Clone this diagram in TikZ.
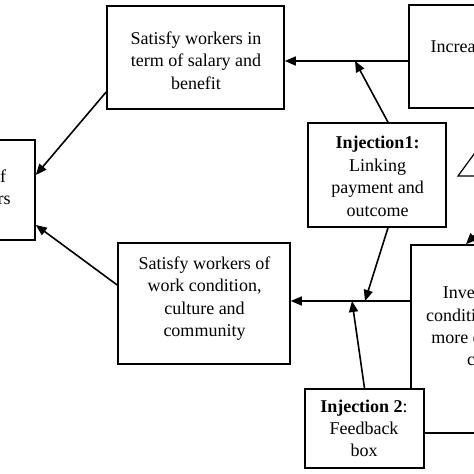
\documentclass[tikz,border=0pt]{standalone}
\usepackage{fontspec}
\setmainfont{Liberation Serif}
\usetikzlibrary{arrows.meta}

\begin{document}
\begin{tikzpicture}[x=1pt,y=-1pt,
  box/.style={draw,line width=1.6pt,inner sep=0pt,fill=white},
  txt/.style={align=center,inner sep=0pt,font=\fontsize{18}{22.4}\selectfont},
  arr/.style={-{Triangle[length=11pt,width=9pt]},line width=1.6pt}]

\useasboundingbox (0,0) rectangle (474,474);
\clip (0,0) rectangle (474,474);

% ---------- boxes ----------
\node[box,minimum width=150pt,minimum height=100pt] (loyal) at (-40,190) {};
\node[box,minimum width=177pt,minimum height=103pt] (salary) at (195.5,57.5) {};
\node[box,minimum width=226pt,minimum height=103pt] (incr) at (522,56.5) {};
\node[box,minimum width=138pt,minimum height=104pt] (inj1) at (377,175) {};
\node[box,minimum width=172pt,minimum height=121pt] (work) at (204,303.5) {};
\node[box,minimum width=162pt,minimum height=188pt] (inve) at (492,339) {};
\node[box,minimum width=119pt,minimum height=79pt] (inj2) at (364.5,428.5) {};

% ---------- texts ----------
\node[txt] (loyaltxt) at (-31.5,187.4) {Loyalty of\\the workers};
\node[txt] (salarytxt) at (196,60.4) {Satisfy workers in\\term of salary and\\benefit};
\node[txt] (incrtxt) at (522,59) {Increase productivity and\\profit};
\node[txt] (inj1txt) at (377.5,176.4) {\textbf{Injection1:}\\Linking\\payment and\\outcome};
\node[txt] (worktxt) at (204.5,298.5) {Satisfy workers of\\work condition,\\culture and\\community};
\node[txt] (invetxt) at (492,326.5) {Investment in\\conditions and the\\more democratic\\culture};
\node[txt] (inj2txt) at (364,428.3) {\textbf{Injection 2}:\\Feedback\\box};

% triangle at the right border
\draw[line width=1.2pt] (458,176) -- (477,150) -- (496,176) -- cycle;

% ---------- connectors ----------
\coordinate (m1) at (355,61);
\coordinate (m2) at (365,301);
\coordinate (m3) at (352,301);
\coordinate (offr) at (484,226);

\draw[arr] (incr.west |- m1) -- (salary.east |- m1);
\draw[arr] ([xshift=11pt]inj1.north) -- (m1);
\draw[arr] ([yshift=-34.5pt]salary.west) -- ([yshift=15pt]loyal.east);
\draw[arr] ([yshift=18.5pt]work.west) -- ([yshift=-35pt]loyal.east);
\draw[arr] (inve.west |- m2) -- (work.east |- m2);
\draw[arr] ([xshift=11pt]inj1.south) -- (m2);
\draw[arr] (inj2.north) -- (m3);
\draw[arr] (offr) -- ([xshift=-26pt]inve.north);
\end{tikzpicture}
\end{document}
